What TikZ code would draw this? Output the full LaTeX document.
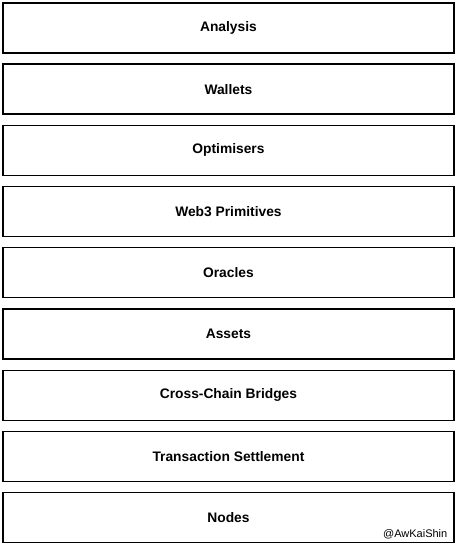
\documentclass[tikz,border=0pt]{standalone}
\usepackage{fontspec}
\setmainfont{Liberation Sans}
\begin{document}
\begin{tikzpicture}[x=1pt,y=-1pt,
  layer/.style={draw=black,line width=1.3pt,fill=white,minimum width=451pt,minimum height=50pt,inner sep=0pt,font=\fontsize{13.8}{16}\selectfont\bfseries,anchor=north west},
  credit/.style={font=\fontsize{11}{13}\selectfont,anchor=base east,inner sep=0pt}]
\useasboundingbox (0,0) rectangle (456,545);
\node[layer] (l1) at (2.3,2.3) {Analysis};
\node[layer] (l2) at (2.3,63.5) {Wallets};
\node[layer] (l3) at (2.3,124.7) {Optimisers};
\node[layer] (l4) at (2.3,185.9) {Web3 Primitives};
\node[layer] (l5) at (2.3,247.1) {Oracles};
\node[layer] (l6) at (2.3,308.3) {Assets};
\node[layer] (l7) at (2.3,369.5) {Cross-Chain Bridges};
\node[layer] (l8) at (2.3,430.7) {Transaction Settlement};
\node[layer] (l9) at (2.3,491.9) {Nodes};
\node[credit] (cr) at (447.5,537.3) {@AwKaiShin};
\end{tikzpicture}
\end{document}
